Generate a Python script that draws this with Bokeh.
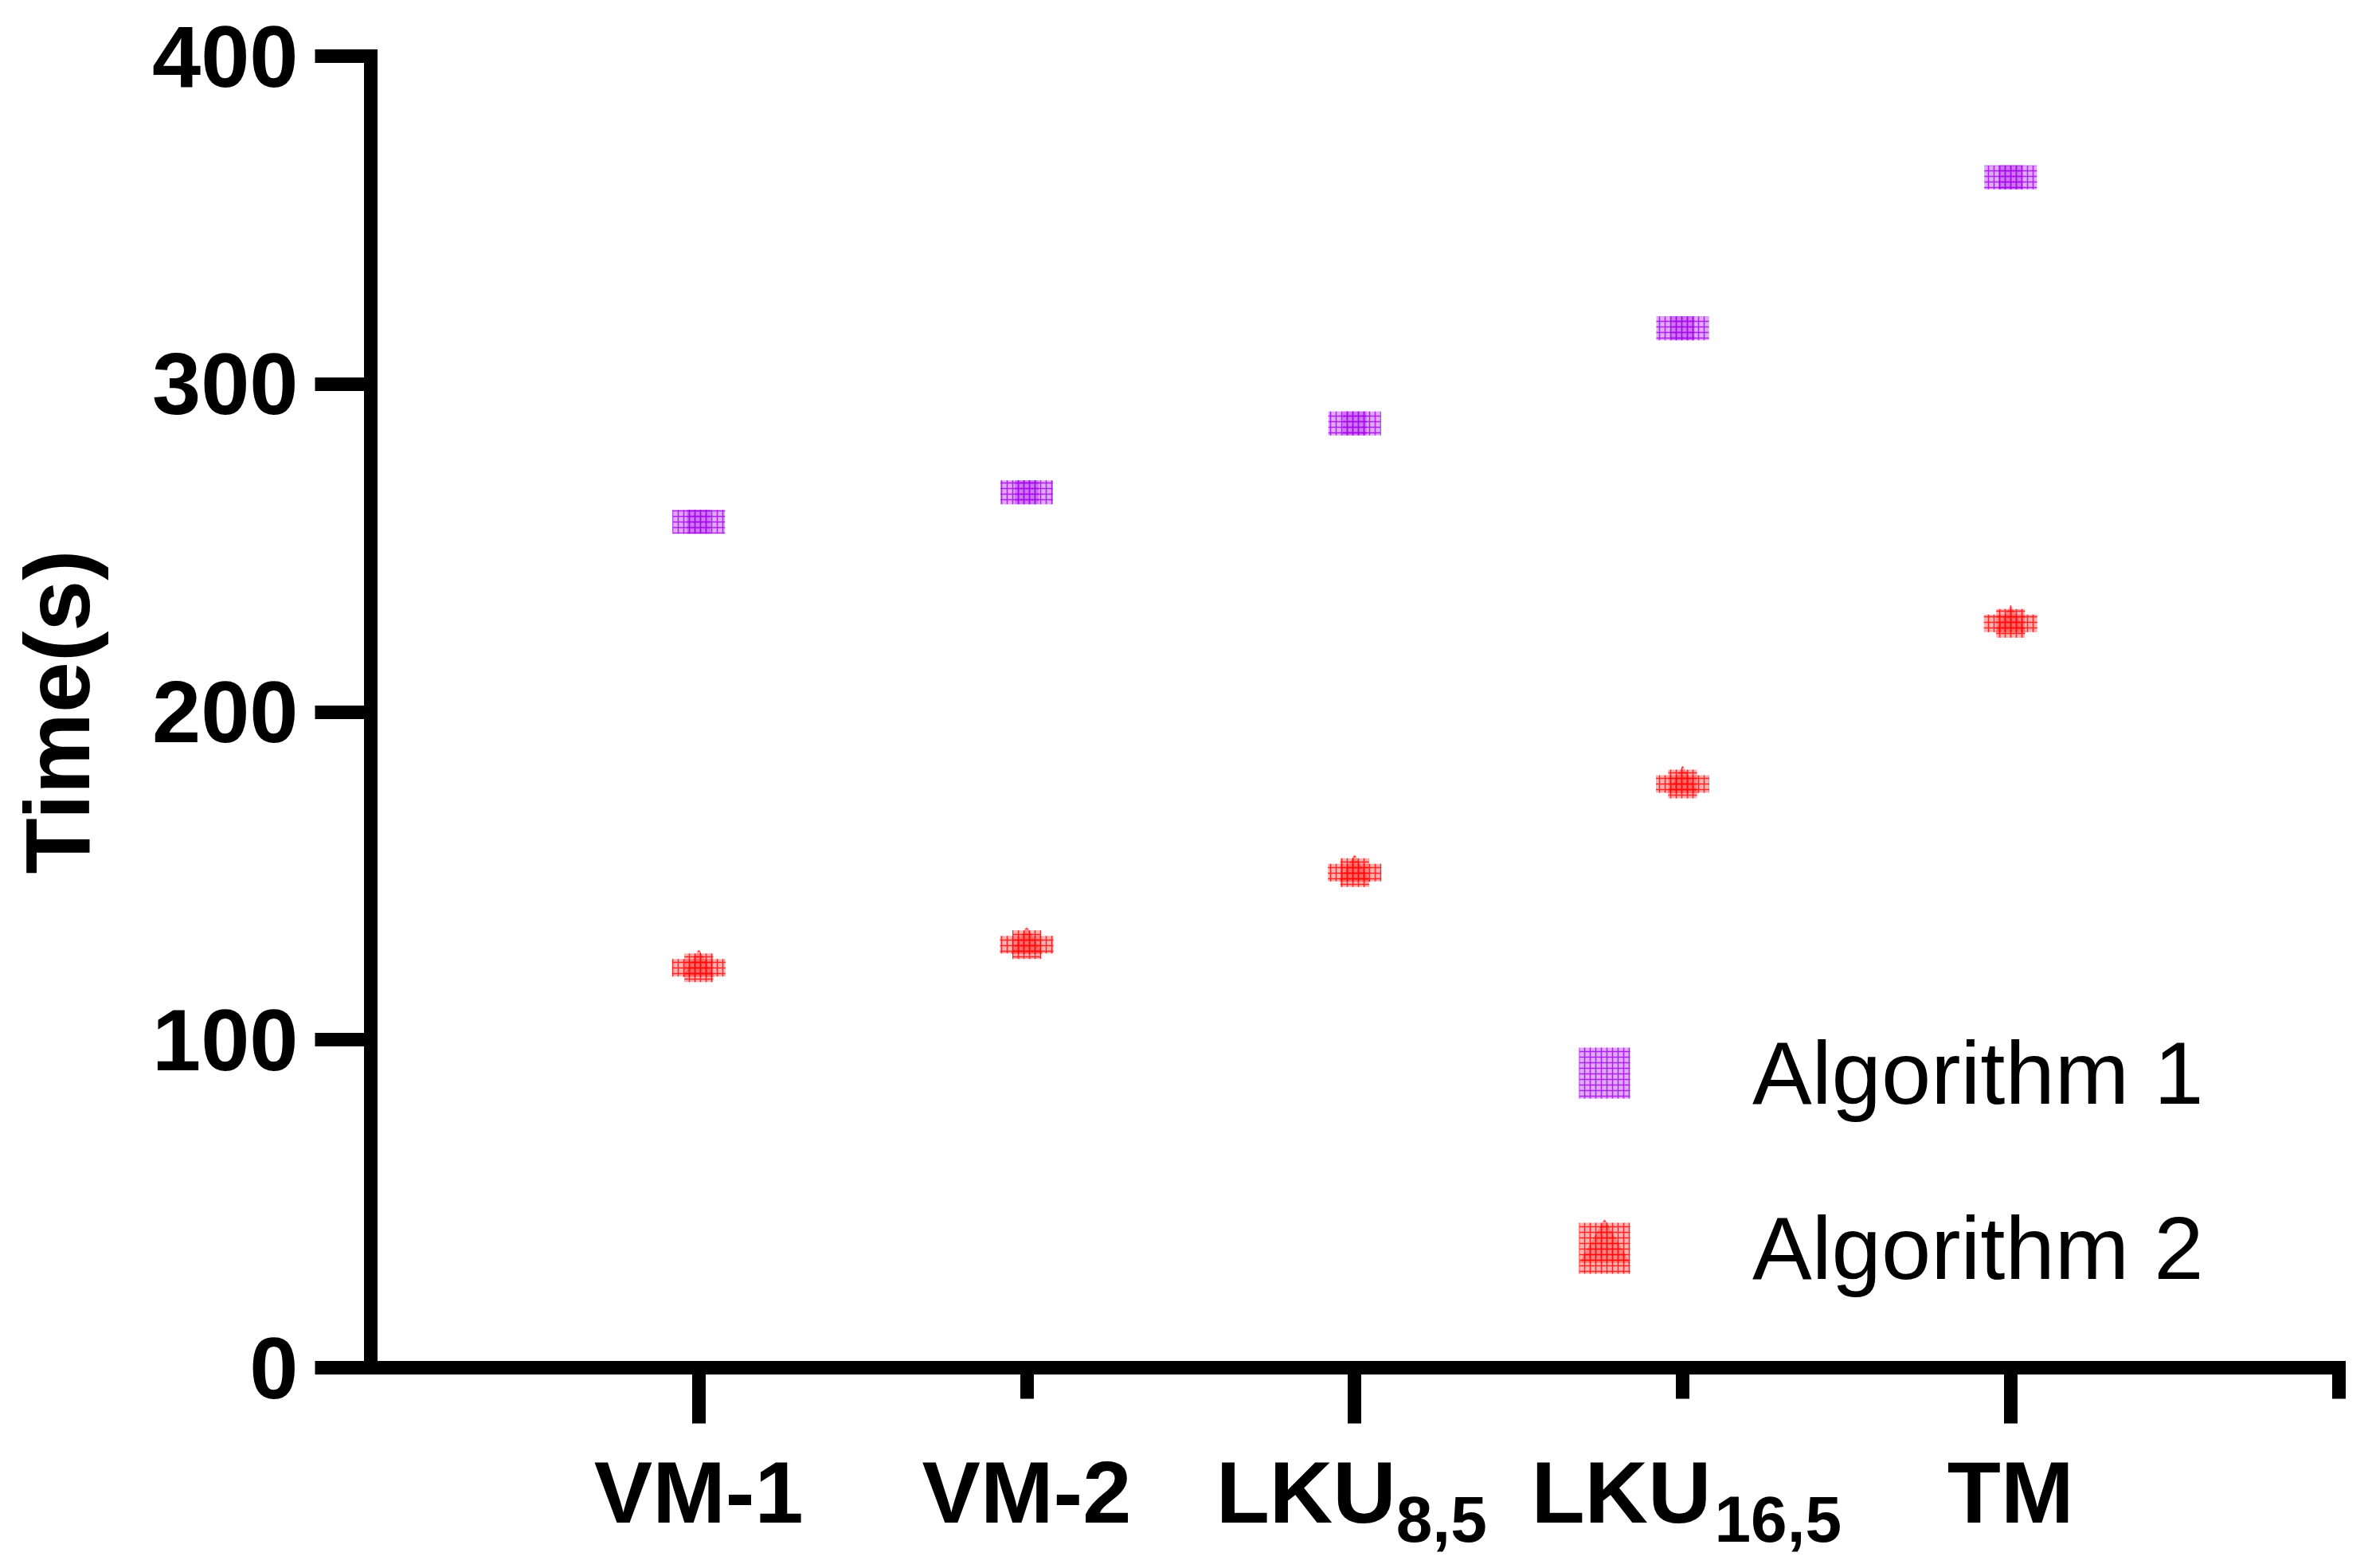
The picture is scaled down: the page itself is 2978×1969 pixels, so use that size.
import math
from bokeh.plotting import figure
from bokeh.models import Range1d, FixedTicker, Legend, LegendItem, ColumnDataSource
from bokeh.core.properties import value
from bokeh.embed import file_html
from bokeh.resources import INLINE

# ---- data ----
categories = ["VM-1", "VM-2", "LKU", "LKU", "TM"]
subscripts = ["", "", "8,5", "16,5", ""]
alg1 = [258, 267, 288, 317, 363]
alg2 = [122, 129, 151, 178, 227]
y_ticks = [0, 100, 200, 300, 400]
series_names = ["Algorithm 1", "Algorithm 2"]
y_title = "Time(s)"

xs = list(range(1, len(categories) + 1))
n = len(categories)

FONT = "Liberation Sans"
PURPLE = "#B428F0"
PURPLE_D = "#A000E6"
RED = "#FF3C3C"
RED_D = "#FF0000"

# ---- layout (pixels); the frame fills the whole figure, axes sit at fixed locations ----
W, H = 2962, 1953
X0, Y0 = 465, 1717          # pixel position of data (0, 0)
PX = 411.75                 # pixels per category step
PY = 1647 / (y_ticks[-1] - y_ticks[0])   # pixels per time unit

p = figure(width=W, height=H, output_backend="svg", toolbar_location=None,
           x_range=Range1d(-X0 / PX, (W - X0) / PX),
           y_range=Range1d(-(H - Y0) / PY, Y0 / PY),
           min_border=0)
p.xgrid.visible = False
p.ygrid.visible = False
p.outline_line_color = None
p.background_fill_color = "white"
p.border_fill_color = "white"

for ax in (p.xaxis[0], p.yaxis[0]):
    ax.axis_line_width = 17
    ax.axis_line_cap = "square"
    ax.axis_line_color = "black"
    ax.major_tick_line_width = 17
    ax.minor_tick_line_width = 17
    ax.major_tick_line_color = "black"
    ax.minor_tick_line_color = "black"
    ax.major_tick_in = 0
    ax.minor_tick_in = 0
    ax.major_tick_out = 70

xa = p.xaxis[0]
xa.fixed_location = y_ticks[0]
xa.bounds = (0, n + 1)
xa.ticker = FixedTicker(ticks=xs[0::2], minor_ticks=xs[1::2] + [n + 1])
xa.minor_tick_out = 39
xa.major_label_overrides = {t: "" for t in xs[0::2]}

ya = p.yaxis[0]
ya.fixed_location = 0
ya.bounds = (y_ticks[0], y_ticks[-1])
ya.ticker = FixedTicker(ticks=y_ticks, minor_ticks=[])
ya.minor_tick_out = 0
ya.major_label_text_font = FONT
ya.major_label_text_font_style = "bold"
ya.major_label_text_font_size = "110px"
ya.major_label_text_color = "black"
ya.major_label_standoff = 21

src = ColumnDataSource(dict(x=xs, alg1=alg1, alg2=alg2))

st1 = dict(fill_color=PURPLE, fill_alpha=0.4, line_color=None, hatch_pattern="cross",
           hatch_color=PURPLE_D, hatch_alpha=0.8, hatch_scale=7, hatch_weight=1.5)
st2 = dict(fill_color=RED, fill_alpha=0.4, line_color=None, hatch_pattern="cross",
           hatch_color=RED_D, hatch_alpha=0.8, hatch_scale=7, hatch_weight=1.5)

p.rect(x="x", y="alg1", width=66, height=30, width_units="screen", height_units="screen",
       source=src, **st1)
a1 = p.scatter(x="x", y="alg1", marker="square", size=30, source=src, **st1)

p.rect(x="x", y="alg2", width=67, height=22, width_units="screen", height_units="screen",
       source=src, **st2)
a2s = p.scatter(x="x", y="alg2", marker="square", size=36, source=src, **st2)
a2t = p.scatter(x="x", y="alg2", marker="triangle", size=40, source=src, **st2)

legend = Legend(items=[LegendItem(label=series_names[0], renderers=[a1]),
                       LegendItem(label=series_names[1], renderers=[a2s, a2t])],
                location=(1929, H - 1647), glyph_width=170, glyph_height=160, spacing=60,
                label_standoff=101, padding=0, margin=0, border_line_color=None,
                background_fill_alpha=0, label_text_font=FONT, label_text_font_size="112px",
                label_text_color="black")
p.add_layout(legend, "center")

txt = dict(text_font=value(FONT), text_font_style="bold", text_color="black",
           text_baseline="middle")

# ---- y axis title ----
title_src = ColumnDataSource(dict(x=[0], y=[(y_ticks[0] + y_ticks[-1]) / 2], t=[y_title]))
p.text(x="x", y="y", text="t", source=title_src, angle=math.pi / 2, text_align="center",
       x_offset=71 - X0, text_font_size="115px", **txt)

# ---- category labels below the axis (main text + subscripts) ----
plain_idx = [i for i, s in enumerate(subscripts) if not s]
sub_idx = [i for i, s in enumerate(subscripts) if s]
main_right = {2: 52, 3: 36}
sub_left = {2: 52, 3: 40}

plain_src = ColumnDataSource(dict(x=[xs[i] for i in plain_idx],
                                  y=[y_ticks[0]] * len(plain_idx),
                                  t=[categories[i] for i in plain_idx]))
main_src = ColumnDataSource(dict(x=[xs[i] for i in sub_idx],
                                 y=[y_ticks[0]] * len(sub_idx),
                                 t=[categories[i] for i in sub_idx],
                                 dx=[main_right[i] for i in sub_idx],
                                 dx2=[sub_left[i] for i in sub_idx],
                                 s=[subscripts[i] for i in sub_idx]))

p.text(x="x", y="y", text="t", source=plain_src, text_align="center", y_offset=156,
       text_font_size="110px", **txt)
p.text(x="x", y="y", text="t", source=main_src, text_align="right", x_offset="dx", y_offset=156,
       text_font_size="110px", **txt)
p.text(x="x", y="y", text="s", source=main_src, text_align="left", x_offset="dx2", y_offset=190,
       text_font_size="82px", **txt)

open("out.html", "w").write(file_html(p, INLINE))
